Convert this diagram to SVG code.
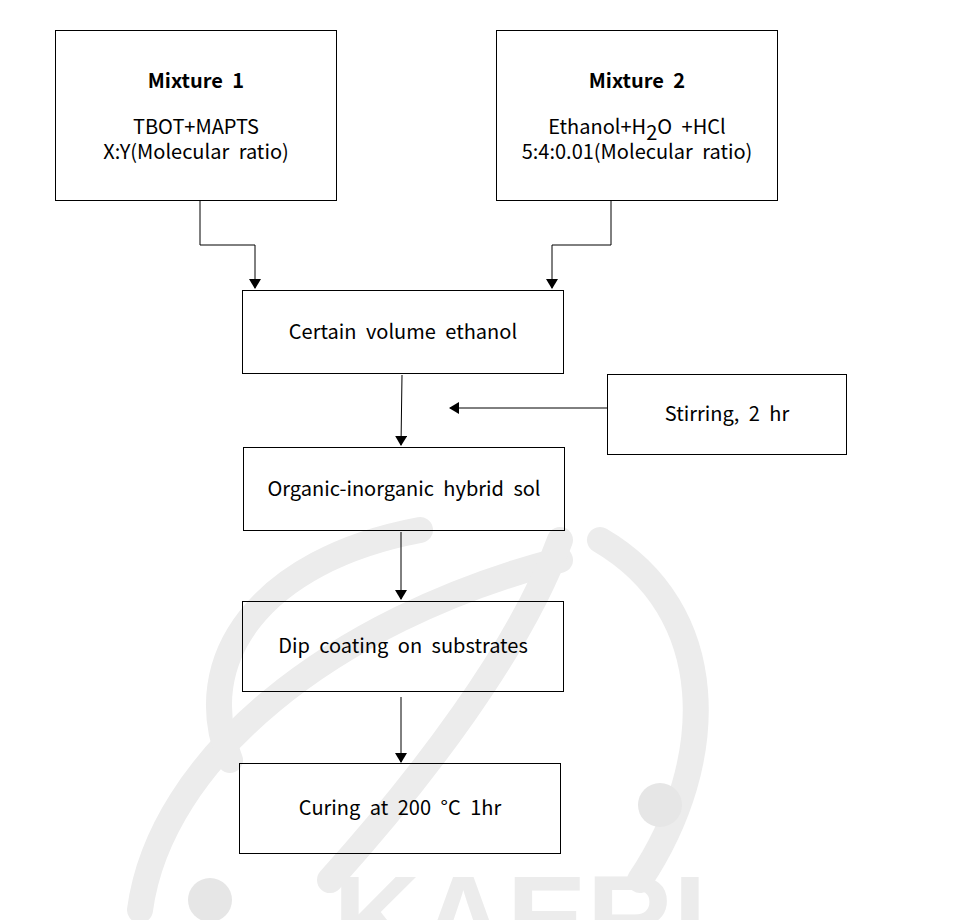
<svg xmlns="http://www.w3.org/2000/svg" width="953" height="920" viewBox="0 0 953 920">
<style>
.box{fill:none;stroke:#000;stroke-width:1}
.t{font-family:"Malgun Gothic","Noto Sans CJK KR","Liberation Sans",sans-serif;font-size:20px;fill:#000;text-anchor:middle;word-spacing:5px}
.b{font-weight:bold}
.c{fill:none;stroke:#000;stroke-width:1}
.wm{fill:none;stroke:#ececec;stroke-width:26;stroke-linecap:round}
</style>
<defs><marker id="a" markerWidth="10" markerHeight="12" refX="9" refY="6" orient="auto" markerUnits="userSpaceOnUse"><path d="M0,0 L10,6 L0,12 z" fill="#000"/></marker></defs>
<rect width="953" height="920" fill="#fff"/>
<g id="watermark">
<path class="wm" d="M140,910 C160,760 330,620 560,560"/>
<path class="wm" d="M230,760 C190,660 260,560 420,530"/>
<path class="wm" d="M600,540 C720,610 720,760 640,880"/>
<path class="wm" d="M330,880 C420,780 520,650 560,540"/>
<circle cx="660" cy="805" r="22" fill="#e6e6e6"/>
<circle cx="210" cy="900" r="22" fill="#e6e6e6"/>
<text x="520" y="960" font-family="Liberation Sans,sans-serif" font-size="120" font-weight="bold" fill="#ececec" text-anchor="middle">KAERI</text>
</g>
<g id="connectors">
<polyline class="c" points="200,200 200,245 255,245 255,288" marker-end="url(#a)"/>
<polyline class="c" points="611,200 611,245 552,245 552,288" marker-end="url(#a)"/>
<line class="c" x1="402" y1="375" x2="401" y2="445" marker-end="url(#a)"/>
<line class="c" x1="607" y1="408" x2="450" y2="408" marker-end="url(#a)"/>
<line class="c" x1="401" y1="532" x2="401" y2="599" marker-end="url(#a)"/>
<line class="c" x1="401" y1="697" x2="401" y2="762" marker-end="url(#a)"/>
</g>
<g id="mixture1"><rect class="box" x="55.5" y="30.5" width="281" height="170"/>
<text class="t b" x="196" y="88">Mixture 1</text>
<text class="t" x="196" y="134" font-size="19">TBOT+MAPTS</text>
<text class="t" x="196" y="159" font-size="19">X:Y(Molecular ratio)</text></g>
<g id="mixture2"><rect class="box" x="496.5" y="30.5" width="281" height="170"/>
<text class="t b" x="637" y="88">Mixture 2</text>
<text class="t" x="637" y="134" font-size="19">Ethanol+H<tspan dy="6">2</tspan><tspan dy="-6">O  +HCl</tspan></text>
<text class="t" x="637" y="159" font-size="19">5:4:0.01(Molecular ratio)</text></g>
<g id="ethanol"><rect class="box" x="242.5" y="290.5" width="321" height="83"/>
<text class="t" x="403" y="339">Certain volume ethanol</text></g>
<g id="stirring"><rect class="box" x="607.5" y="374.5" width="239" height="80"/>
<text class="t" x="727" y="421">Stirring, 2 hr</text></g>
<g id="sol"><rect class="box" x="243.5" y="447.5" width="321" height="83"/>
<text class="t" x="404" y="496">Organic-inorganic hybrid sol</text></g>
<g id="dip"><rect class="box" x="242.5" y="601.5" width="321" height="90"/>
<text class="t" x="403" y="653">Dip coating on substrates</text></g>
<g id="curing"><rect class="box" x="239.5" y="763.5" width="321" height="90"/>
<text class="t" x="400" y="815">Curing at 200 °C 1hr</text></g>
</svg>
